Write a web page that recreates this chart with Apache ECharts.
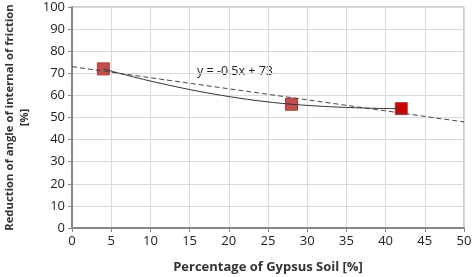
<!DOCTYPE html>
<html lang="en">
    <head>
        <meta charset="UTF-8">
        <script src="https://cdn.jsdelivr.net/npm/echarts@6/dist/echarts.min.js"></script>
        <title>Gypsus Soil</title>
    </head>
    <body style="margin:0">
        <div id="chart" style="width: 474px; height: 277px;"></div>
    </body>
    <script>
        // 石膏土百分比 - 内摩擦角降低
        var gypsum = [4, 28, 42];
        var reduction = [72, 56, 54];
        var markerColors = ["#c0504d", "#c0504d", "#cc0000"];
        // 趋势线 y = -0.5x + 73 端点
        var trendX = [0, 50];
        var trendY = [73, 48];
        var equation = "y = -0.5x + 73";

        var lineData = gypsum.map(function(x, i){ return [x, reduction[i]]; });
        var trendData = trendX.map(function(x, i){ return [x, trendY[i]]; });
        var pointData = gypsum.map(function(x, i){
            return {value:[x, reduction[i]], itemStyle:{color:markerColors[i]}};
        });

        var font = "'Open Sans', sans-serif";
        var myCharts = echarts.init(document.getElementById("chart"));
        var option = {
            animation:false,
            grid:{left:72, right:10, top:7, bottom:49, outerBoundsMode:"none", containLabel:false,
                show:true, borderColor:"#9a9a9a", borderWidth:1},
            xAxis:{
                type:"value", min:0, max:50, interval:5,
                name:"Percentage of Gypsus Soil [%]",
                nameLocation:"middle", nameGap:33,
                nameTextStyle:{fontFamily:font, fontWeight:"bold", fontSize:13, color:"#333"},
                axisLine:{lineStyle:{color:"#868686", width:2}},
                axisTick:{show:true, length:4, lineStyle:{color:"#868686"}},
                axisLabel:{fontFamily:font, fontSize:13, color:"#222", margin:7},
                splitLine:{lineStyle:{color:"#d9d9d9"}}
            },
            yAxis:{
                type:"value", min:0, max:100, interval:10,
                name:"Reduction of angle of internal of friction\n[%]",
                nameLocation:"middle", nameGap:40,
                nameTextStyle:{fontFamily:font, fontWeight:"bold", fontSize:11.3, color:"#333", lineHeight:15},
                axisLine:{show:true, lineStyle:{color:"#868686", width:2}},
                axisTick:{show:true, length:4, lineStyle:{color:"#868686"}},
                axisLabel:{fontFamily:font, fontSize:13, color:"#222", margin:7},
                splitLine:{lineStyle:{color:"#d9d9d9"}}
            },
            graphic:[{
                type:"text", left:197, top:65,
                style:{text:equation, fontFamily:font, fontSize:12.5, fill:"#222"}
            }],
            series:[
                {
                    type:"line", data:trendData, showSymbol:false,
                    lineStyle:{color:"#444", width:1, type:[5, 3]}
                },
                {
                    type:"line", data:lineData, smooth:true, showSymbol:false,
                    lineStyle:{color:"#333", width:1}
                },
                {
                    type:"scatter", data:pointData, symbol:"rect", symbolSize:12,
                    itemStyle:{borderColor:"#b03a36", borderWidth:1, opacity:1}
                }
            ]
        };
        myCharts.setOption(option);
    </script>
</html>
